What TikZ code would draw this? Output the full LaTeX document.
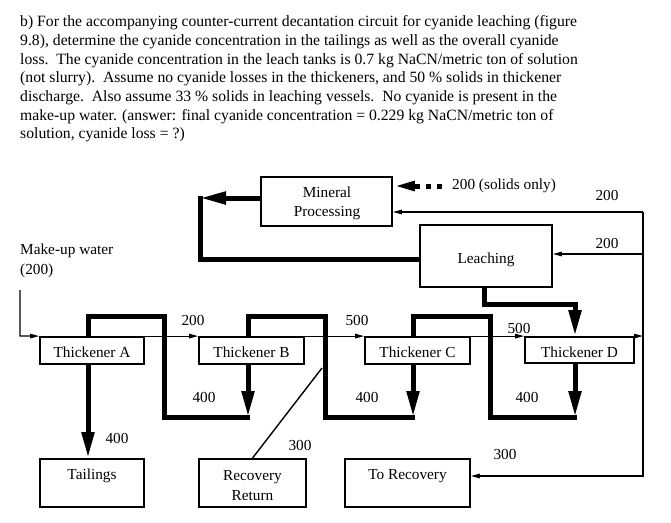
\documentclass[tikz,border=0pt]{standalone}
\usepackage{fontspec}
\setmainfont{Liberation Serif}
\usetikzlibrary{arrows.meta}
\begin{document}
\begin{tikzpicture}[x=1pt,y=-1pt,
 box/.style={draw,line width=1.8pt,inner sep=0pt},
 lbl/.style={inner sep=0pt,align=center,font=\fontsize{15.3}{19.5}\selectfont},
 para/.style={inner sep=0pt,anchor=base west,font=\fontsize{15.7}{19}\selectfont},
 liq/.style={line width=1.2pt},
 slurry/.style={line width=5pt},
 bighead/.style={-{Triangle[length=26pt,width=12pt]}},
 midhead/.style={-{Triangle[length=22pt,width=9pt]}},
 smallhead/.style={-{Triangle[length=9pt,width=4.5pt]}}]
\useasboundingbox (0,0) rectangle (671,522);
% paragraph
\node[para] (p1) at (20,27) {b) For the accompanying counter-current decantation circuit for cyanide leaching (figure};
\node[para] (p2) at (20,45.6) {9.8), determine the cyanide concentration in the tailings as well as the overall cyanide};
\node[para] (p3) at (20,64.2) {loss.\ \ The cyanide concentration in the leach tanks is 0.7 kg NaCN/metric ton of solution};
\node[para] (p4) at (20,82.8) {(not slurry).\ \ Assume no cyanide losses in the thickeners, and 50 \% solids in thickener};
\node[para] (p5) at (20,101.4) {discharge.\ \ Also assume 33 \% solids in leaching vessels.\ \ No cyanide is present in the};
\node[para] (p6) at (20,120) {make-up water. (answer: final cyanide concentration = 0.229 kg NaCN/metric ton of};
\node[para] (p7) at (20,138.6) {solution, cyanide loss = ?)};
% boxes
\node[box,minimum width=131pt,minimum height=49pt] (MP) at (326.5,201.5) {};
\node[lbl] (MPT) at (327,203.5) {Mineral\\Processing};
\node[box,minimum width=132pt,minimum height=62pt] (Leach) at (486,256) {};
\node[lbl] (LeachT) at (486,259.5) {Leaching};
\node[box,minimum width=104pt,minimum height=27pt] (ThA) at (92,350.5) {};
\node[lbl] (ThAT) at (92,352.5) {Thickener A};
\node[box,minimum width=105pt,minimum height=27pt] (ThB) at (251.5,350.5) {};
\node[lbl] (ThBT) at (251.5,352.5) {Thickener B};
\node[box,minimum width=105pt,minimum height=27pt] (ThC) at (417.5,350.5) {};
\node[lbl] (ThCT) at (417.5,352.5) {Thickener C};
\node[box,minimum width=109pt,minimum height=26pt] (ThD) at (579.5,350) {};
\node[lbl] (ThDT) at (579.5,352) {Thickener D};
\node[box,minimum width=104pt,minimum height=48pt] (Tail) at (92,483) {};
\node[lbl] (TailT) at (92,476) {Tailings};
\node[box,minimum width=107pt,minimum height=48pt] (RecRet) at (252.5,483) {};
\node[lbl] (RecRetT) at (252.5,485.5) {Recovery\\Return};
\node[box,minimum width=125pt,minimum height=48pt] (ToRec) at (407.5,483) {};
\node[lbl] (ToRecT) at (407.5,476) {To Recovery};
% coordinates
\coordinate (k1) at (200,198);
\coordinate (k2) at (200,259);
\coordinate (r1) at (643,212);
\coordinate (r2) at (643,254);
\coordinate (r3) at (643,336);
\coordinate (r4) at (643,476);
\coordinate (mw) at (20,290);
\coordinate (mw2) at (20,336);
\coordinate (sol) at (442,186);
\coordinate (dg) at (322,368);
% thick slurry to/from mineral processing and leaching
\draw[slurry,bighead] (MP.west |- k1) -- (k1);
\draw[slurry] (200,196) -- (k2) -- (Leach.west |- k2);
\draw[slurry,midhead,dash pattern=on 5pt off 6pt] (sol) -- (MP.east |- sol);
\draw[slurry,bighead] (484,0 |- Leach.south) -- (484,304) -- (575,304) -- (575,0 |- ThD.north);
% liquid lines
\draw[liq,smallhead] (mw) -- (mw2) -- (ThA.north west);
\draw[liq,smallhead] (ThA.north east) -- (ThB.north west);
\draw[liq,smallhead] (ThB.north east) -- (ThC.north west);
\draw[liq,smallhead] (ThC.north east) -- (ThD.north west);
\draw[liq,smallhead] (ThD.north east) -- (r3);
\draw[liq,smallhead] (r1) -- (MP.east |- r1);
\draw[liq,smallhead] (r2) -- (Leach.east |- r2);
\draw[liq,smallhead] (r1) -- (r4) -- (ToRec.east |- r4);
\draw[liq,line width=1.4pt] (RecRet.north) -- (dg);
% underflows
\draw[slurry,bighead] (88,0 |- ThA.south) -- (88,0 |- Tail.north);
\draw[slurry,bighead] (248,0 |- ThB.south) -- (248,417);
\draw[slurry] (250,417) -- (164,417) -- (164,316) -- (88,316) -- (88,0 |- ThA.north);
\draw[slurry,bighead] (413,0 |- ThC.south) -- (413,417);
\draw[slurry] (415,417) -- (325,417) -- (325,316) -- (248,316) -- (248,0 |- ThB.north);
\draw[slurry,bighead] (575,0 |- ThD.south) -- (575,417);
\draw[slurry] (577,417) -- (490,417) -- (490,316) -- (413,316) -- (413,0 |- ThC.north);
% labels
\node[lbl,anchor=west] (Lsol) at (452,186) {200 (solids only)};
\node[lbl] (L1) at (607,195) {200};
\node[lbl] (L2) at (607,243) {200};
\node[lbl] (L3) at (193,320) {200};
\node[lbl] (L4) at (357,320) {500};
\node[lbl] (L5) at (519,328) {500};
\node[lbl] (L6) at (204,397) {400};
\node[lbl] (L7) at (367,397) {400};
\node[lbl] (L8) at (527,397) {400};
\node[lbl] (L9) at (117,438) {400};
\node[lbl] (L10) at (300,445) {300};
\node[lbl] (L11) at (505,454) {300};
\node[lbl,anchor=west,align=left] (Lmw) at (20,261) {Make-up water\\(200)};
\end{tikzpicture}
\end{document}
